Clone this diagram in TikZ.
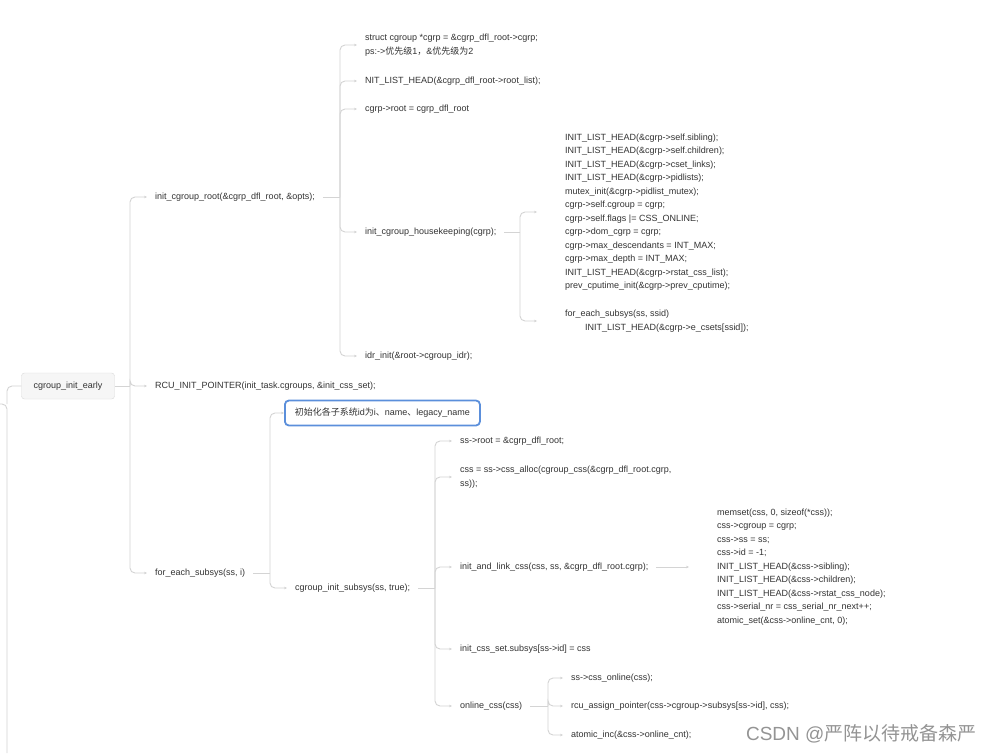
\documentclass[tikz,border=0pt]{standalone}
\usepackage{fontspec}
\setmainfont{Liberation Sans}
\newfontfamily\cjk{Noto Sans CJK SC}
\usetikzlibrary{arrows.meta}
\definecolor{txt}{HTML}{333333}
\definecolor{linegray}{HTML}{D4D4D4}
\definecolor{boxfill}{HTML}{F6F6F6}
\definecolor{boxline}{HTML}{DADADA}
\definecolor{hiblue}{HTML}{5B8FDB}
\newcommand{\zh}[1]{{\cjk #1}}

\tikzset{
  item/.style={anchor=west, inner xsep=8pt, inner ysep=1pt, text=txt,
    font=\fontsize{9}{13.5}\selectfont, align=left},
  blk/.style={item, inner xsep=28pt},
  rootbox/.style={draw=boxline, fill=boxfill, rounded corners=3pt, text=txt,
    font=\fontsize{9}{11}\selectfont, minimum width=93pt, minimum height=26pt},
  notebox/.style={anchor=west, draw=hiblue, line width=1.8pt, fill=white,
    rounded corners=4pt, text=txt, font=\fontsize{9}{11}\selectfont,
    minimum height=25pt, inner xsep=10pt},
  link/.style={draw=linegray, line width=0.9pt, rounded corners=5pt},
  tip/.style={-{Stealth[length=3pt,width=2.6pt]}},
}

\begin{document}
\begin{tikzpicture}[x=1pt,y=-1pt]
\useasboundingbox[fill=white] (0,0) rectangle (993,753);

% root
\node[rootbox] (root) at (68,386) {cgroup\_init\_early};
\coordinate (offleft) at (0,404);
\coordinate (b0) at (7,404);
\coordinate (offbelow) at (7,753);
\draw[link] (offleft) -- (b0) -- (offbelow);
\draw[link] (b0) |- (root.west);

% first level
\node[item] (initroot) at (147,197) {init\_cgroup\_root(\&cgrp\_dfl\_root, \&opts);};
\node[item] (rcuinit) at (147,386) {RCU\_INIT\_POINTER(init\_task.cgroups, \&init\_css\_set);};
\node[item] (foreach) at (147,573) {for\_each\_subsys(ss, i)};
\coordinate (b1) at (130,386);
\draw[link] (root.east) -- (b1);
\foreach \c in {initroot,rcuinit,foreach}
  \draw[link,tip] (b1) |- (\c.west);

% init_cgroup_root
\node[item] (cgrpdecl) at (357,45) {struct cgroup *cgrp = \&cgrp\_dfl\_root->cgrp;\\
  ps:->\zh{优先级}1\zh{，}\&\zh{优先级为}2};
\node[item] (nitlist) at (357,81) {NIT\_LIST\_HEAD(\&cgrp\_dfl\_root->root\_list);};
\node[item] (cgrproot) at (357,109) {cgrp->root = cgrp\_dfl\_root};
\node[item] (housekeep) at (357,232) {init\_cgroup\_housekeeping(cgrp);};
\node[item] (idrinit) at (357,356) {idr\_init(\&root->cgroup\_idr);};
\coordinate (b2) at (340,197);
\draw[link] (initroot.east) -- (b2);
\foreach \c in {cgrpdecl,nitlist,cgrproot,housekeep,idrinit}
  \draw[link,tip] (b2) |- (\c.west);

% init_cgroup_housekeeping
\node[blk] (hkblock) at (537,212) {INIT\_LIST\_HEAD(\&cgrp->self.sibling);\\
  INIT\_LIST\_HEAD(\&cgrp->self.children);\\
  INIT\_LIST\_HEAD(\&cgrp->cset\_links);\\
  INIT\_LIST\_HEAD(\&cgrp->pidlists);\\
  mutex\_init(\&cgrp->pidlist\_mutex);\\
  cgrp->self.cgroup = cgrp;\\
  cgrp->self.flags |= CSS\_ONLINE;\\
  cgrp->dom\_cgrp = cgrp;\\
  cgrp->max\_descendants = INT\_MAX;\\
  cgrp->max\_depth = INT\_MAX;\\
  INIT\_LIST\_HEAD(\&cgrp->rstat\_css\_list);\\
  prev\_cputime\_init(\&cgrp->prev\_cputime);};
\node[blk] (hkloop) at (537,321) {for\_each\_subsys(ss, ssid)\\
  \hspace*{20pt}INIT\_LIST\_HEAD(\&cgrp->e\_csets[ssid]);};
\coordinate (b3) at (520,232);
\draw[link] (housekeep.east) -- (b3);
\foreach \c in {hkblock,hkloop}
  \draw[link,tip] (b3) |- (\c.west);

% for_each_subsys
\node[notebox] (idbox) at (284,413) {\zh{初始化各子系统}id\zh{为}i\zh{、}name\zh{、}legacy\_name};
\node[item] (initsubsys) at (287,588) {cgroup\_init\_subsys(ss, true);};
\coordinate (b4) at (270,573);
\draw[link] (foreach.east) -- (b4);
\foreach \c in {idbox,initsubsys}
  \draw[link,tip] (b4) |- (\c.west);

% cgroup_init_subsys
\node[item] (ssroot) at (452,441) {ss->root = \&cgrp\_dfl\_root;};
\node[item] (cssalloc) at (452,477) {css = ss->css\_alloc(cgroup\_css(\&cgrp\_dfl\_root.cgrp,\\ ss));};
\node[item] (linkcss) at (452,567) {init\_and\_link\_css(css, ss, \&cgrp\_dfl\_root.cgrp);};
\node[item] (cssset) at (452,649) {init\_css\_set.subsys[ss->id] = css};
\node[item] (onlinecss) at (452,706) {online\_css(css)};
\coordinate (b5) at (435,588);
\draw[link] (initsubsys.east) -- (b5);
\foreach \c in {ssroot,cssalloc,linkcss,cssset,onlinecss}
  \draw[link,tip] (b5) |- (\c.west);

% init_and_link_css
\node[blk] (cssblock) at (689,567) {memset(css, 0, sizeof(*css));\\
  css->cgroup = cgrp;\\
  css->ss = ss;\\
  css->id = -1;\\
  INIT\_LIST\_HEAD(\&css->sibling);\\
  INIT\_LIST\_HEAD(\&css->children);\\
  INIT\_LIST\_HEAD(\&css->rstat\_css\_node);\\
  css->serial\_nr = css\_serial\_nr\_next++;\\
  atomic\_set(\&css->online\_cnt, 0);};
\draw[link,tip] (linkcss.east) -- (cssblock.west);

% online_css
\node[item] (cssonline) at (563,678) {ss->css\_online(css);};
\node[item] (rcuassign) at (563,706) {rcu\_assign\_pointer(css->cgroup->subsys[ss->id], css);};
\node[item] (atomicinc) at (563,735) {atomic\_inc(\&css->online\_cnt);};
\coordinate (b6) at (548,706);
\draw[link] (onlinecss.east) -- (b6);
\foreach \c in {cssonline,rcuassign,atomicinc}
  \draw[link,tip] (b6) |- (\c.west);

% watermark
\node[anchor=east, text=black!42, font=\fontsize{19}{19}\selectfont] (mark) at (980,734)
  {CSDN @\zh{严阵以待戒备森严}};
\end{tikzpicture}
\end{document}
